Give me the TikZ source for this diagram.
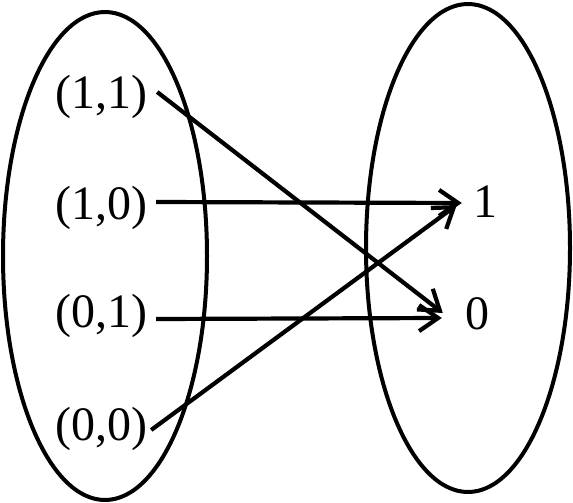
\documentclass[tikz,border=0pt]{standalone}
\usepackage{fontspec}
\setmainfont{Liberation Serif}
\usetikzlibrary{arrows.meta}
\begin{document}
\begin{tikzpicture}[x=1pt,y=-1pt,
  lbl/.style={inner sep=0pt,font=\fontsize{48}{50}\selectfont},
  setline/.style={line width=4pt},
  mapline/.style={line width=4.2pt,-{Straight Barb[length=19pt 0,width=26pt 0,line width=4.2pt]}}]
\useasboundingbox (0,0) rectangle (573,503);
\draw[setline] (105,256) ellipse [x radius=102, y radius=244];
\draw[setline] (468,248) ellipse [x radius=102, y radius=244];
\node[lbl] (n11) at (101,97) {(1,1)};
\node[lbl] (n10) at (101,208) {(1,0)};
\node[lbl] (n01) at (101,316) {(0,1)};
\node[lbl] (n00) at (101,429) {(0,0)};
\node[lbl] (t1) at (485,202) {1};
\node[lbl] (t0) at (477,314) {0};
\draw[mapline] ([xshift=10pt,yshift=5pt]n11.east) -- ([xshift=-22pt,yshift=1pt]t0.west);
\draw[mapline] ([xshift=9pt,yshift=6pt]n10.east) -- ([xshift=-11pt,yshift=-1pt]t1.west);
\draw[mapline] ([xshift=9pt,yshift=-3pt]n01.east) -- ([xshift=-23pt,yshift=-4pt]t0.west);
\draw[mapline] ([xshift=4pt,yshift=-1pt]n00.east) -- ([xshift=-16pt,yshift=-3pt]t1.west);
\end{tikzpicture}
\end{document}
